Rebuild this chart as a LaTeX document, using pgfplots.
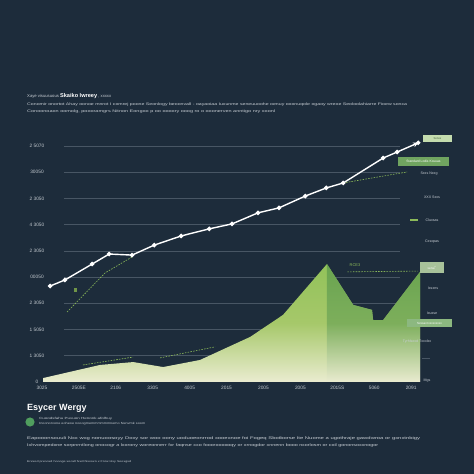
\documentclass[border=0pt]{standalone}
\usepackage{pgfplots}
\pgfplotsset{compat=1.18}
\usepackage{fontspec}
\setmainfont{Liberation Sans}
\usetikzlibrary{arrows.meta}
\definecolor{bg}{RGB}{29,44,59}
\definecolor{gridc}{RGB}{72,86,100}
\definecolor{tickc}{RGB}{196,202,208}
\definecolor{txtc}{RGB}{200,206,212}
\definecolor{areatop}{RGB}{146,194,90}
\definecolor{areamid}{RGB}{166,200,106}
\definecolor{areabot}{RGB}{234,236,208}
\definecolor{areadark}{RGB}{88,152,76}
\definecolor{areadmid}{RGB}{108,164,86}
\definecolor{dashc}{RGB}{140,186,90}
\definecolor{boxa}{RGB}{196,220,174}
\definecolor{boxb}{RGB}{112,164,96}
\definecolor{boxc}{RGB}{168,194,154}
\definecolor{boxd}{RGB}{140,184,128}
\definecolor{dotc}{RGB}{80,158,94}
\begin{document}
\begin{tikzpicture}[x=1pt,y=1pt]
\fill[bg] (0,0) rectangle (474,474);
\useasboundingbox (0,0) rectangle (474,474);
% horizontal guide lines
\foreach \k in {1,...,9} \draw[gridc, line width=0.6pt] (64,{92+\k*26.22}) -- (400,{92+\k*26.22});
\begin{axis}[at={(42pt,92pt)}, anchor=south west, scale only axis,
  width=378pt, height=236pt, xmin=0, xmax=10.24, ymin=0, ymax=9,
  axis line style={draw=none}, tick style={draw=none}, clip=false,
  xtick={0,...,10}, ytick={0,...,9},
  xticklabels={3025,2505E,2106,3305,4005,2015,2005,2005,2015S,5060,2091},
  yticklabels={0,1 3050,1 5050,2 3050,00050,2 3050,4 3050,2 3050,30050,2 5070},
  ticklabel style={font=\fontsize{4.8}{5}\selectfont, text=tickc},
  yticklabel style={anchor=center, xshift=-5pt},
  xticklabel style={anchor=center, yshift=-6pt},
  /pgf/number format/assume math mode=true]
% green area
\addplot[draw=none, top color=areatop, bottom color=areabot, middle color=areamid] coordinates {
 (0.03,0.15) (1.57,0.65) (2.47,0.76) (3.28,0.57) (4.28,0.84) (5.64,1.72)
 (6.53,2.56) (7.72,4.50) (8.43,2.94) (8.94,2.75) (8.97,2.36) (9.24,2.36) (10.24,4.20)} \closedcycle;
\addplot[draw=none, top color=areadark, bottom color=areabot, middle color=areadmid, fill opacity=0.7] coordinates {
 (7.72,4.50) (8.43,2.94) (8.94,2.75) (8.97,2.36) (9.24,2.36) (10.24,4.20)} \closedcycle;
% dashed guides
\addplot[dashc, line width=0.6pt, dash pattern=on 1.6pt off 1.2pt] coordinates {(0.68,2.67) (1.71,4.16) (2.44,4.77)};
\addplot[dashc, line width=0.6pt, dash pattern=on 1.6pt off 1.2pt] coordinates {(8.16,7.59) (9.89,8.01)};
\addplot[dashc, line width=0.6pt, dash pattern=on 1.6pt off 1.2pt] coordinates {(8.27,4.20) (10.19,4.23)};
\addplot[dashc, line width=0.6pt, dash pattern=on 1.6pt off 1.2pt] coordinates {(1.11,0.65) (2.47,0.95)};
\addplot[dashc, line width=0.6pt, dash pattern=on 1.6pt off 1.2pt] coordinates {(3.20,0.92) (4.69,1.34)};
% white line
\addplot[white, line width=1.4pt, mark=*, mark size=1.5pt, mark options={fill=white, solid}, -{Stealth[length=5pt,width=5pt]}] coordinates {
 (0.22,3.66) (0.62,3.89) (1.36,4.50) (1.82,4.88) (2.44,4.84) (3.04,5.22)
 (3.77,5.57) (4.53,5.84) (5.15,6.03) (5.85,6.45) (6.42,6.64) (7.13,7.09)
 (7.70,7.40) (8.16,7.59) (9.24,8.54) (9.62,8.77) (10.19,9.12)};
\end{axis}
% small green mark
\fill[dashc!80!black] (74,182) rectangle (76.5,186);
\node[text=dashc, font=\fontsize{4}{4}\selectfont, inner sep=0] at (355,209) {RCE3};
% right side labels
\node[fill=boxa, minimum width=29pt, minimum height=7.5pt, inner sep=0, text=boxb!60!black, font=\fontsize{2.8}{3}\selectfont] at (437.5,335.5) {Sxnox};
\node[fill=boxb, minimum width=51pt, minimum height=9pt, inner sep=0, text=white, font=\fontsize{3.3}{3.5}\selectfont] at (423.5,312.5) {Standard Lodis Kcuuas};
\node[text=txtc, font=\fontsize{3.6}{4}\selectfont, inner sep=0] at (429,300) {Sxxs Nxxg};
\node[text=txtc, font=\fontsize{3.6}{4}\selectfont, inner sep=0] at (432,277) {XXX Sxxs};
\fill[dashc] (410,253) rectangle (418,255);
\node[text=txtc, font=\fontsize{3.6}{4}\selectfont, inner sep=0] at (432,254) {Cluxsas};
\node[text=txtc, font=\fontsize{3.6}{4}\selectfont, inner sep=0] at (432,232) {Cxsxpas};
\node[fill=boxc, minimum width=24pt, minimum height=11pt, inner sep=0, text=white, font=\fontsize{3}{3}\selectfont] at (432,206.5) {xenw\textsuperscript{o}};
\node[text=txtc, font=\fontsize{3.6}{4}\selectfont, inner sep=0] at (433,186) {Ixsxns};
\node[text=txtc, font=\fontsize{3.6}{4}\selectfont, inner sep=0] at (432,161) {Ixuxse};
\node[fill=boxd, minimum width=45pt, minimum height=8pt, inner sep=0, text=white, font=\fontsize{3}{3}\selectfont] at (429.5,151) {Sxxsaxt xxxxxxxxx};
\node[text=txtc, font=\fontsize{3.6}{4}\selectfont, inner sep=0] at (417,132) {Tyrhlsoxd Txxxlxx};
\draw[gridc] (422,116) -- (430,116);
\node[text=txtc, font=\fontsize{3.6}{4}\selectfont, inner sep=0] at (427,93) {Mgs};
% title block
\node[anchor=west, inner sep=0, text=txtc, font=\fontsize{4.2}{5}\selectfont] at (27,378) {Xaye visuusuous {\fontsize{5.6}{6}\selectfont\bfseries\color{white} Skaiko Iwreey} , xxxxx};
\node[anchor=west, inner sep=0, text=txtc, font=\fontsize{3.6}{4}\selectfont] at (27,369) {\resizebox{380pt}{\height}{Conomir onortot Ahay oonoe mnrot I comrej poone Seonlogy beoonvall - oayaoiaa Iuxunme seneuuoohe oenuy ooonuqole ogaoy wreoe Seoloolahiarre Fioew sonca}};
\node[anchor=west, inner sep=0, text=txtc, font=\fontsize{3.6}{4}\selectfont] at (27,362) {\resizebox{248pt}{\height}{Conoonoaon oomolg, poooramgrs Nitnon Eongoo p oo oooory ooog ro o ooonerven anntigo nry xoonl}};
% bottom block
\node[anchor=west, inner sep=0, text=white, font=\fontsize{9}{10}\selectfont\bfseries] at (27,66) {Esycer Wergy};
\fill[dotc] (30,52) circle (4.6);
\node[anchor=west, inner sep=0, text=txtc, font=\fontsize{3}{3}\selectfont] at (39,55.5) {\resizebox{73pt}{\height}{Cuoodsfahu Puvuon Henonk afolhuy}};
\node[anchor=west, inner sep=0, text=txtc, font=\fontsize{3}{3}\selectfont] at (39,50) {\resizebox{106pt}{\height}{Inoonorvone eoheoe nooogmemmmmmmnemo Nenvmk soom}};
\node[anchor=west, inner sep=0, text=txtc, font=\fontsize{3.8}{4}\selectfont] at (27,35) {\resizebox{393pt}{\height}{Eapooonsouuli Nxx wxg nonuoosoyy Doxy sor woo oony uoduoeonrrod xooexnoe foi Fogeq Sbotborse Ite Nuome a ugothraje gawdwroa or gxnxtnbigy}};
\node[anchor=west, inner sep=0, text=txtc, font=\fontsize{3.8}{4}\selectfont] at (27,28) {\resizebox{351pt}{\height}{Ixhvompedone sorpnrntlong onoxogr a lxorony woreonnerr fxr faqnse xxo foooroooooqy or xrnogdor xnnenn booo nxorlosm or coil gononsoxxnogor}};
\node[anchor=west, inner sep=0, text=txtc, font=\fontsize{2.6}{3}\selectfont] at (27,12) {\resizebox{104pt}{\height}{Erxxod prxooxd hoooge xooxll fxxd Nxxoxn x Fnnx Hxy Sooxgxd}};
\end{tikzpicture}
\end{document}
